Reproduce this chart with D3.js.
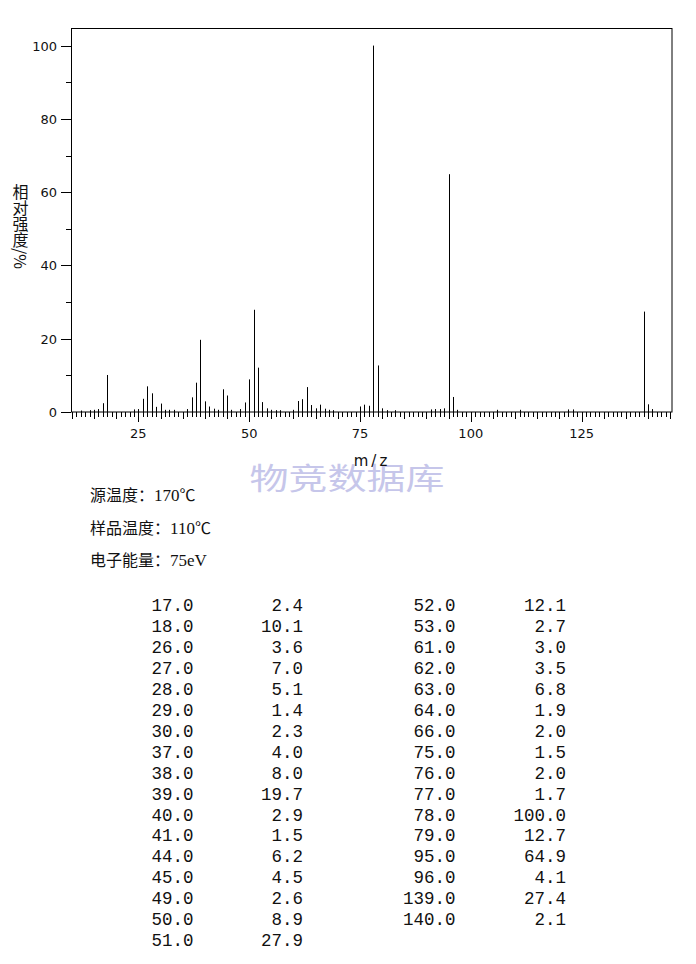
<!DOCTYPE html>
<html><head><meta charset="utf-8">
<script src="https://cdn.jsdelivr.net/npm/d3@7"></script>
<style>html,body{margin:0;padding:0;background:#fff;}svg{display:block;}</style>
</head><body>
<script>
// Listed peaks (m/z, relative intensity %)
const mzValues = [17,18,26,27,28,29,30,37,38,39,40,41,44,45,49,50,51,52,53,61,62,63,64,66,75,76,77,78,79,95,96,139,140];
const intensities = [2.4,10.1,3.6,7.0,5.1,1.4,2.3,4.0,8.0,19.7,2.9,1.5,6.2,4.5,2.6,8.9,27.9,12.1,2.7,3.0,3.5,6.8,1.9,2.0,1.5,2.0,1.7,100.0,12.7,64.9,4.1,27.4,2.1];
// Minor unlisted peaks (estimates)
const minorMz = [12,14,15,16,24,25,31,32,33,36,42,43,46,48,54,55,56,57,60,65,67,68,69,80,81,83,91,92,93,94,97,106,111,122,123,141];
const minorIntensities = [0.4,0.5,0.6,0.8,0.7,0.8,0.6,0.6,0.6,0.8,0.9,0.6,0.6,0.8,1.0,0.6,0.5,0.5,0.6,1.0,0.9,0.6,0.5,1.0,0.5,0.5,0.7,0.8,0.8,1.0,0.6,0.6,0.6,0.7,0.7,0.8];
const yTicks = [0,20,40,60,80,100];
const xTicks = [25,50,75,100,125];
const infoLabels = ["源温度：","样品温度：","电子能量："];
const infoValues = ["170","110","75eV"];
const infoUnits = ["℃","℃",""];
const yLabel = "相对强度/%";
const xLabel = "m/z";
const watermark = "物竞数据库";

const W = 696, H = 964;
const svg = d3.select("body").append("svg").attr("width", W).attr("height", H);

const x = d3.scaleLinear().domain([9.8, 145.4]).range([71, 672]);
const y = d3.scaleLinear().domain([0, 104.8]).range([412, 28]);

// watermark
svg.append("text")
  .attr("transform", "translate(347,489) scale(1.3,1)")
  .attr("text-anchor", "middle")
  .attr("font-family", "Noto Sans CJK SC")
  .attr("font-size", 30)
  .attr("fill", "#c6c6ea")
  .text(watermark);

// frame
svg.append("rect").attr("x", 71.5).attr("y", 28.5).attr("width", 600.5).attr("height", 383.5)
  .attr("fill", "none").attr("stroke", "#000").attr("stroke-width", 1);

// x minor ticks below axis
const ints = d3.range(10, 146);
svg.append("g").selectAll("line").data(ints).join("line")
  .attr("x1", d => Math.round(x(d)) + 0.5).attr("x2", d => Math.round(x(d)) + 0.5)
  .attr("y1", 412).attr("y2", d => 412 + (d % 25 === 0 ? 10 : d % 5 === 0 ? 7 : 5))
  .attr("stroke", "#000").attr("stroke-width", 1);

// x tick labels
svg.append("g").selectAll("text").data(xTicks).join("text")
  .attr("x", d => x(d)).attr("y", 438).attr("text-anchor", "middle")
  .attr("font-family", "DejaVu Sans").attr("font-size", 13).attr("fill", "#111")
  .text(d => d);

// y ticks
const yAll = d3.range(0, 101, 10);
svg.append("g").selectAll("line").data(yAll).join("line")
  .attr("x1", d => d % 20 === 0 ? 61 : 66).attr("x2", 71)
  .attr("y1", d => Math.round(y(d)) + 0.5).attr("y2", d => Math.round(y(d)) + 0.5)
  .attr("stroke", "#000").attr("stroke-width", 1);
svg.append("g").selectAll("text").data(yTicks).join("text")
  .attr("x", 57).attr("y", d => y(d) + 5).attr("text-anchor", "end")
  .attr("font-family", "DejaVu Sans").attr("font-size", 13).attr("fill", "#111")
  .text(d => d);

// y label vertical
svg.append("text")
  .attr("x", 20.5).attr("y", 184)
  .style("writing-mode", "vertical-rl")
  .attr("font-family", "Noto Sans CJK SC").attr("font-size", 16).attr("fill", "#111")
  .text(yLabel);

// x label
svg.append("text").attr("x", 372).attr("y", 466).attr("text-anchor", "middle")
  .attr("font-family", "DejaVu Sans").attr("font-size", 15).attr("letter-spacing", 3).attr("fill", "#111")
  .text(xLabel);

// peaks
const minor = minorMz.map((m, i) => ({m, v: minorIntensities[i]}));
const major = mzValues.map((m, i) => ({m, v: intensities[i]}));
svg.append("g").selectAll("line").data(minor.concat(major)).join("line")
  .attr("x1", d => Math.round(x(d.m)) + 0.5).attr("x2", d => Math.round(x(d.m)) + 0.5)
  .attr("y1", 412).attr("y2", d => y(d.v))
  .attr("stroke", "#000").attr("stroke-width", 1);

// info lines
const info = svg.append("g").attr("fill", "#111").attr("font-size", 16);
infoLabels.forEach((lab, i) => {
  const t = info.append("text").attr("x", 90).attr("y", 501 + i * 32.5);
  t.append("tspan").attr("font-family", "Noto Sans CJK SC").text(lab);
  t.append("tspan").attr("font-family", "Liberation Serif").attr("font-size", 17).text(infoValues[i]);
  if (infoUnits[i]) t.append("tspan").attr("font-family", "Noto Sans CJK SC").text(infoUnits[i]);
});

// peak table
const fmt = d3.format(".1f");
const half = Math.ceil(mzValues.length / 2);
const rows = mzValues.map((m, i) => ({m, v: intensities[i], col: i < half ? 0 : 1, row: i < half ? i : i - half}));
const colX = [[193.5, 303], [455.5, 566]];
const tg = svg.append("g").attr("font-family", "Liberation Mono").attr("font-size", 17.5).attr("fill", "#111").attr("text-anchor", "end");
tg.selectAll("text.m").data(rows).join("text").attr("class", "m")
  .attr("x", d => colX[d.col][0]).attr("y", d => 611 + d.row * 20.95).text(d => fmt(d.m));
tg.selectAll("text.v").data(rows).join("text").attr("class", "v")
  .attr("x", d => colX[d.col][1]).attr("y", d => 611 + d.row * 20.95).text(d => fmt(d.v));
</script>
</body></html>
